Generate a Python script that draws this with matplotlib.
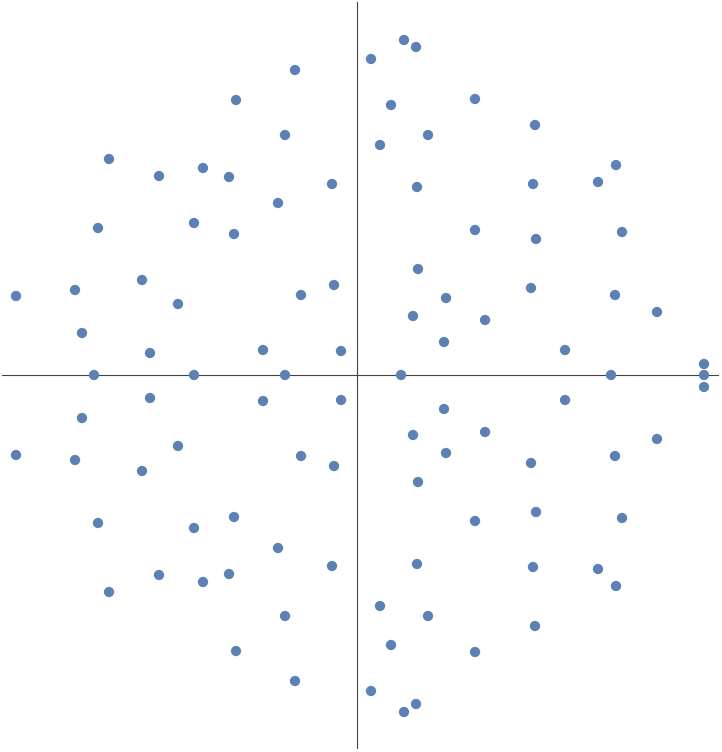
import matplotlib
matplotlib.use("Agg")
import matplotlib.pyplot as plt

# point positions (horizontal, vertical) relative to origin
xs = [47, 59, 14, -62, -121, 34, 118, 178, -72, 71, 23, -248, -198, -154, -128, 259, 241, -25, 60, 176,
      -79, -259, -163, -123, 118, 179, 265, 61, -341, -282, -215, -179, -56, -23, 89, 174, 258, 300, 56, 128,
      -275, 87, -207, -94, -16, 208, 347,
      -263, -163, -72, 44, 254, 347,
      347, -207, -94, -16, 208, -275, 87, 56, 128, -179, -341, -282, -215, -56, -23, 89, 174, 258, 300, 61,
      -259, -163, -123, 118, 179, 265, -79, -248, -198, -154, -128, -25, 60, 176, 241, 259, -72, 23, 71, -121,
      34, 118, 178, -62, 14, 47, 59]
ys = [335, 328, 316, 305, 275, 270, 276, 250, 240, 240, 230, 216, 199, 207, 198, 210, 193, 191, 188, 191,
      172, 147, 152, 141, 145, 136, 143, 106, 79, 85, 95, 71, 80, 90, 77, 87, 80, 63, 59, 55,
      42, 33, 22, 25, 24, 25, 11,
      0, 0, 0, 0, 0, 0,
      -12, -23, -26, -25, -25, -43, -34, -60, -57, -71, -80, -85, -96, -81, -91, -78, -88, -81, -64, -107,
      -148, -153, -142, -146, -137, -143, -173, -217, -200, -207, -199, -191, -189, -192, -194, -211, -241, -231, -241, -276,
      -270, -277, -251, -306, -316, -337, -329]

fig = plt.figure(figsize=(7.22, 7.52), dpi=100)
ax = fig.add_axes([0, 0, 1, 1])
ax.set_xlim(-357, 365)
ax.set_ylim(-377, 375)
ax.axis("off")

ax.plot([-355, 361], [0, 0], color="#444444", lw=0.8, zorder=1)
ax.plot([0, 0], [-373, 373], color="#444444", lw=0.8, zorder=1)

ax.scatter(xs, ys, s=55, color="#5E81B5", edgecolors="none", zorder=2)

fig.savefig("out.png", dpi=100)
